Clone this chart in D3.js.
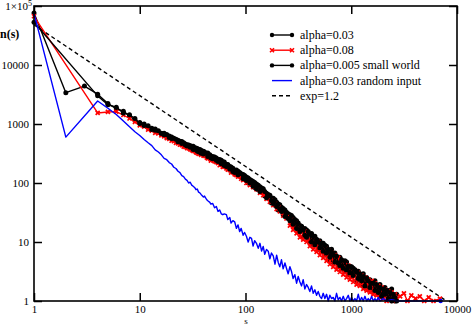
<!DOCTYPE html>
<html>
<head>
<meta charset="utf-8">
<script src="https://cdn.jsdelivr.net/npm/d3@7"></script>
<style>
  body { margin: 0; background: #fff; }
  svg { display: block; background: #fff; }
  text { font-family: "Liberation Serif", "Times New Roman", serif; fill: #000; }
</style>
</head>
<body>
<svg id="chart" width="474" height="324"></svg>
<script>
// Axis ticks
const xTicks = [1, 10, 100, 1000, 10000];
const yTicks = [1, 10, 100, 1000, 10000, 100000];

// Cluster sizes shared by the three simulated runs in the scaling region
const bandSizes = [
  5, 6, 7, 8, 9, 10, 11, 12, 13, 14,
  15, 16, 17, 18, 19, 20, 21, 22, 23, 24,
  25, 26, 27, 28, 29, 30,
  31, 32, 33, 34, 35, 36, 37, 38,
  40, 41, 43, 44, 46, 47, 49,
  51, 53, 55, 57, 59, 61, 63,
  66, 68, 71, 73, 76, 79, 82, 85, 88, 91,
  95, 98, 102, 106, 110, 114, 118, 122,
  127, 132, 137, 142, 147, 152, 158, 164, 170, 176,
  183, 190, 197, 204, 211, 219, 227, 236, 244, 253,
  263, 272, 282, 293, 304, 315, 327, 339, 351, 364,
  378, 392, 406, 421, 437, 453, 470, 487, 505, 524,
  543, 563, 584, 606, 628, 651, 675, 700, 726, 753,
  781, 810, 840, 871, 903, 937, 971, 1007, 1044, 1083,
  1123, 1165, 1208, 1252, 1299, 1347, 1397, 1448, 1502, 1557,
  1615, 1675, 1737, 1801, 1868, 1937, 2009, 2083, 2160, 2240,
  2323, 2409, 2498, 2591, 2687
];

// alpha = 0.03
const a003Sizes = [1, 2, 3, 4].concat(bandSizes);
const a003Counts = [
  76000, 3400, 4400, 3200,
  2220, 1820, 1650, 1370, 1160, 1060, 1000, 870, 850, 820,
  720, 700, 700, 605, 625, 600, 545, 515, 530, 497,
  505, 440, 458, 445, 412, 428,
  390, 418, 395, 340, 384, 371, 330, 360,
  344, 296, 305, 321, 270, 285, 282,
  240, 266, 250, 220, 243, 210, 226,
  208, 180, 190, 163, 177, 165, 140, 158, 146, 126,
  140, 118, 126, 100, 115, 96, 106, 84,
  96, 77, 86, 71, 80, 60, 67, 55, 62, 46,
  55, 42, 47, 35, 43, 39, 29, 35, 27, 30,
  29, 20, 26, 18, 23, 15, 19, 18, 12, 17,
  16, 11, 10, 14, 9, 12.5, 11, 7.5, 10.5, 7,
  9.5, 6, 8.5, 6.2, 5, 7.5, 4.5, 6.5, 5.5, 3.8,
  5.5, 3.5, 4.5, 3.2, 4.6, 2.8, 3.9, 2.6, 3.6, 3.3,
  2.2, 3.2, 2.6, 1.9, 2.9, 2, 2.5, 1.6, 2.3, 2.1,
  1.5, 2.2, 1.7, 1.3, 1.9, 1.4, 1.2, 1.7, 1.3, 1.5,
  1.1, 1.6, 1.2, 1, 1.3
];

// alpha = 0.08
const a008Sizes = [1, 4].concat(bandSizes,
  [2900, 3150, 3400, 3700, 4050, 4450, 4900, 5400, 6000, 6900]);
const a008Counts = [
  67000, 1540,
  1600, 1620, 1420, 1240, 1090, 950, 900, 800, 775, 710,
  690, 640, 615, 575, 560, 520, 510, 480, 470, 445,
  440, 415, 410, 390, 385, 372,
  360, 350, 345, 330, 325, 312, 318, 300,
  290, 288, 270, 262, 258, 240, 245,
  232, 225, 218, 200, 205, 188, 190,
  176, 168, 165, 150, 152, 140, 136, 128, 130, 118,
  112, 116, 100, 103, 92, 95, 85, 88,
  78, 80, 68, 70, 62, 64, 54, 58, 48, 50,
  42, 45, 36, 39, 33, 35, 28, 30, 25, 27,
  19, 24, 16, 22, 14, 19, 12, 17, 11, 15,
  10, 13.5, 8.5, 12, 7.5, 11, 6.8, 10, 6, 9,
  5.4, 8, 4.8, 7.2, 4.2, 6.6, 3.8, 6, 3.4, 5.4,
  3.1, 4.8, 2.8, 4.4, 2.5, 4, 2.3, 3.6, 2.1, 3.3,
  1.9, 3, 1.8, 2.7, 1.6, 2.5, 1.5, 2.3, 1.4, 2.2,
  1.3, 2, 1.25, 1.8, 1.15, 1.7, 1.1, 1.55, 1, 1.45,
  1.2, 1.4, 1, 1.3, 1.1,
  1.2, 1.35, 1, 1.25, 1.1, 1.2, 1, 1.15, 1, 1.1
];

// alpha = 0.005, small world
const a0005Sizes = [1, 4].concat(bandSizes);
const a0005Counts = [
  53000, 3000,
  2120, 1930, 1540, 1430, 1240, 1020, 940, 935, 810, 780,
  770, 690, 660, 665, 590, 570, 575, 550, 500, 510,
  465, 480, 440, 425, 440, 405,
  420, 370, 375, 392, 350, 340, 368, 318,
  310, 335, 320, 280, 300, 265, 258,
  276, 242, 232, 250, 212, 230, 198,
  190, 205, 172, 186, 156, 150, 166, 138, 150, 144,
  118, 134, 110, 122, 100, 110, 88, 102,
  80, 92, 72, 82, 76, 72, 56, 64, 60, 50,
  45, 52, 40, 44, 36, 33, 37, 27, 32, 25,
  23, 28, 20, 24, 17, 21, 15, 18.5, 16, 13,
  12, 15, 13.5, 10, 12.5, 9, 11, 10, 8, 9.5,
  7, 8.8, 6.5, 7.5, 5.5, 6.8, 6, 4.6, 5.8, 4.4,
  4, 5, 3.6, 4.8, 3.4, 3.9, 3, 3.8, 2.7, 3.4,
  3.1, 2.4, 2.9, 2.2, 2.6, 1.8, 2.4, 2.2, 1.7, 2,
  2, 1.5, 1.9, 1.4, 1.7, 1.2, 1.6, 1.3, 1.5, 1.1,
  1.4, 1, 1.3, 1.15, 1
];

// alpha = 0.03, random input
const randSizes = [
  1, 2, 4, 5, 6, 7, 8, 9, 10, 11,
  12, 13, 14, 15, 16, 17, 18, 19, 20, 21,
  22, 23, 24, 25, 26, 27, 28, 29, 30, 31,
  32, 33, 34, 35, 36, 37, 38, 40, 41, 43,
  44, 46, 47, 49, 51, 53, 55, 57, 59, 61,
  63, 66, 68, 71, 73, 76, 79, 82, 85, 88,
  91, 95, 98, 102, 106, 110, 114, 118, 122, 127,
  132, 137, 142, 147, 152, 158, 164, 170, 176, 183,
  190, 197, 204, 211, 219, 227, 236, 244, 253, 263,
  272, 282, 293, 304, 315, 327, 339, 351, 364, 378,
  392, 406, 421, 437, 453, 470, 487, 505, 524, 543,
  563, 584, 606, 628, 651, 675, 700, 726, 753, 781,
  810, 840, 871, 903, 937, 971, 1007, 1044, 1083, 1123,
  1165, 1208, 1252, 1299, 1347, 1397, 1448, 1502, 1557, 1615,
  1675, 1737, 1801, 1868, 2009, 2160, 2409, 2687, 7000
];
const randCounts = [
  75000, 600, 2450, 1850, 1450, 1120, 900, 740, 640, 545,
  480, 430, 365, 335, 300, 262, 248, 222, 210, 185,
  176, 158, 150, 133, 128, 116, 111, 100, 103, 92,
  88, 84, 77, 79, 70, 68, 64, 58, 60, 52,
  50, 47, 44, 45, 38, 40, 33, 35, 30, 29,
  30, 29, 24, 26, 21, 23, 22, 17, 19.5, 15,
  17, 13, 14.5, 12.5, 10, 12, 11.5, 8.5, 10.5, 9.5,
  7.8, 9.5, 7, 8.4, 6.2, 7.5, 7, 5.2, 6.5, 5.8,
  4.2, 6, 4.5, 3.8, 5, 3.5, 4.4, 3.6, 2.9, 3.8,
  3.2, 2.4, 2.8, 2, 2.6, 2.1, 1.8, 2.3, 1.6, 1.9,
  1.7, 1.45, 1.8, 1.35, 1.55, 1.25, 1.45, 1.2, 1.1, 1.35,
  1.1, 1.3, 1, 1.25, 1.1, 1.15, 1, 1.35, 1.05, 1.15,
  1, 1.2, 1, 1.1, 1.25, 1, 1.15, 1, 1.1, 1,
  1.3, 1, 1.15, 1, 1.2, 1, 1.1, 1, 1.2, 1,
  1.1, 1, 1.15, 1, 1.1, 1, 1.05, 1, 1
];

// Power-law guide, exponent 1.2
const guideSizes = [1, 7950];
const guideCounts = [48000, 1];

const legendLabels = [
  "alpha=0.03",
  "alpha=0.08",
  "alpha=0.005 small world",
  "alpha=0.03 random input",
  "exp=1.2"
];

const svg = d3.select("#chart");
const plotLeft = 34, plotRight = 457, plotTop = 6, plotBottom = 301;

const x = d3.scaleLog().domain([1, 10000]).range([plotLeft, plotRight]);
const y = d3.scaleLog().domain([1, 100000]).range([plotBottom, plotTop]);

const zip = (xs, ys) => xs.map((s, i) => [s, ys[i]]).filter(d => d[1] != null);
const line = d3.line().x(d => x(d[0])).y(d => y(d[1]));

const plot = svg.append("g");

// guide line
plot.append("path")
  .datum(zip(guideSizes, guideCounts))
  .attr("d", line)
  .attr("fill", "none")
  .attr("stroke", "#000")
  .attr("stroke-width", 1.4)
  .attr("stroke-dasharray", "4,3");

const cross = "M-2,-2L2,2M-2,2L2,-2";

function drawSeries(data, color, marker) {
  const g = plot.append("g");
  g.append("path")
    .datum(data)
    .attr("d", line)
    .attr("fill", "none")
    .attr("stroke", color)
    .attr("stroke-width", 1.4)
    .attr("stroke-linejoin", "round");
  if (marker === "circle") {
    g.selectAll("circle").data(data).join("circle")
      .attr("cx", d => x(d[0])).attr("cy", d => y(d[1]))
      .attr("r", 2.5).attr("fill", color);
  } else if (marker === "cross") {
    g.selectAll("path.m").data(data).join("path")
      .attr("class", "m")
      .attr("transform", d => `translate(${x(d[0])},${y(d[1])})`)
      .attr("d", cross)
      .attr("stroke", color).attr("stroke-width", 1.7).attr("fill", "none");
  }
}

drawSeries(zip(a003Sizes, a003Counts), "#000", "circle");
drawSeries(zip(a008Sizes, a008Counts), "#ff0000", "cross");
drawSeries(zip(a0005Sizes, a0005Counts), "#000", "circle");
drawSeries(zip(randSizes, randCounts), "#0000ff", null);

// the last random-input point carries a marker
plot.append("circle")
  .attr("cx", x(randSizes[randSizes.length - 1]))
  .attr("cy", y(randCounts[randCounts.length - 1]))
  .attr("r", 2.2).attr("fill", "#0000ff");

// axes: inward ticks on all four sides
const fmt = d => String(d);
const gx = svg.append("g").attr("transform", `translate(0,${plotBottom})`)
  .call(d3.axisBottom(x).tickValues(xTicks).tickFormat(fmt)
    .tickSizeInner(-8).tickSizeOuter(0).tickPadding(4));
const gxt = svg.append("g").attr("transform", `translate(0,${plotTop})`)
  .call(d3.axisTop(x).tickValues(xTicks).tickFormat("")
    .tickSizeInner(-8).tickSizeOuter(0));
const gy = svg.append("g").attr("transform", `translate(${plotLeft},0)`)
  .call(d3.axisLeft(y).tickValues(yTicks).tickFormat(fmt)
    .tickSizeInner(-8).tickSizeOuter(0).tickPadding(5));
const gyr = svg.append("g").attr("transform", `translate(${plotRight},0)`)
  .call(d3.axisRight(y).tickValues(yTicks).tickFormat("")
    .tickSizeInner(-8).tickSizeOuter(0));

[gx, gxt, gy, gyr].forEach(g => {
  g.attr("font-family", null);
  g.select(".domain").remove();
  g.selectAll(".tick line").attr("stroke", "#000").attr("stroke-width", 1.5);
  g.selectAll("text").attr("font-size", 11).attr("fill", "#000");
});

// 1×10^5 label with superscript
gy.selectAll(".tick text").filter(d => d === 100000)
  .text("1×10")
  .attr("x", -2)
  .append("tspan").attr("dy", "-0.45em").attr("font-size", 8).text("5");

// frame
svg.append("rect")
  .attr("x", plotLeft).attr("y", plotTop)
  .attr("width", plotRight - plotLeft).attr("height", plotBottom - plotTop)
  .attr("fill", "none").attr("stroke", "#000").attr("stroke-width", 1.6);

// axis titles
svg.append("text").attr("x", 0).attr("y", 38)
  .attr("font-size", 12).attr("font-weight", "bold").text("n(s)");
svg.append("text").attr("x", 246).attr("y", 323.5)
  .attr("font-size", 9).attr("text-anchor", "middle").text("s");

// legend
const legend = svg.append("g");
const rowY = i => 35 + i * 15.2;
const legendStyles = [
  { color: "#000", marker: "circle", dash: null },
  { color: "#ff0000", marker: "cross", dash: null },
  { color: "#000", marker: "circle", dash: null },
  { color: "#0000ff", marker: null, dash: null },
  { color: "#000", marker: null, dash: "4,3" }
];
legendLabels.forEach((label, i) => {
  const st = legendStyles[i];
  const yy = rowY(i);
  legend.append("line")
    .attr("x1", 272).attr("x2", 292).attr("y1", yy).attr("y2", yy)
    .attr("stroke", st.color).attr("stroke-width", 1.4)
    .attr("stroke-dasharray", st.dash);
  [272, 292].forEach(px => {
    if (st.marker === "circle") {
      legend.append("circle").attr("cx", px).attr("cy", yy).attr("r", 2.2).attr("fill", st.color);
    } else if (st.marker === "cross") {
      legend.append("path").attr("transform", `translate(${px},${yy})`)
        .attr("d", cross).attr("stroke", st.color).attr("stroke-width", 1.6).attr("fill", "none");
    }
  });
  legend.append("text").attr("x", 300).attr("y", yy + 4)
    .attr("font-size", 12).text(label);
});
</script>
</body>
</html>
